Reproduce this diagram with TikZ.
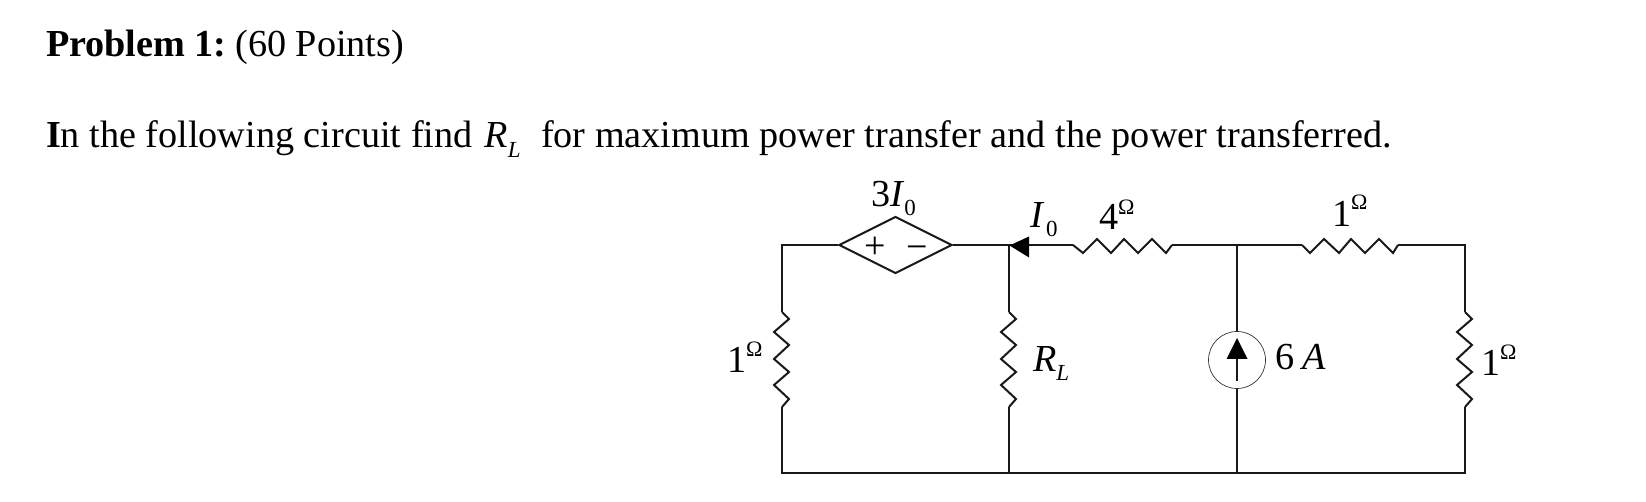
\documentclass[tikz,border=0pt]{standalone}
\usepackage{fontspec}
\setmainfont{Liberation Serif}
\usetikzlibrary{shapes.geometric,arrows.meta}
\newcommand{\subdown}[2]{\raisebox{-#1pt}{\fontsize{23}{23}\selectfont #2}}
\newcommand{\ohm}[1]{\raisebox{#1pt}{\fontsize{22}{22}\selectfont Ω}}
\tikzset{
  wire/.style={line width=2pt,line join=miter,draw=black!90},
  lbl/.style={anchor=base west,inner sep=0pt,outer sep=0pt,font=\fontsize{38.2}{38}\selectfont},
  head/.style={fill=black,draw=none},
}
\begin{document}
\begin{tikzpicture}[x=1pt,y=-1pt]
\useasboundingbox (0,0) rectangle (1646,502);
% text
\node[lbl] (title) at (46,57) {\textbf{Problem 1:}\hspace{-4pt} (60 Points)};
\node[lbl] (body) at (46,148) {\textbf{I}n the following circuit find\hspace{12pt}\textit{R}\subdown{10}{\textit{L}}\hspace{11pt} for maximum power transfer and the power transferred.};
% junctions
\coordinate (tl) at (782,245);
\coordinate (bl) at (782,473);
\coordinate (tm) at (1009,245);
\coordinate (bm) at (1009,473);
\coordinate (ts) at (1237,245);
\coordinate (bs) at (1237,473);
\coordinate (tr) at (1465,245);
\coordinate (br) at (1465,473);
% resistor end points
\coordinate (r1a) at (782,312); \coordinate (r1b) at (782,407);
\coordinate (r2a) at (1009,312); \coordinate (r2b) at (1009,407);
\coordinate (r3a) at (1465,312); \coordinate (r3b) at (1465,407);
\coordinate (r4a) at (1073,245); \coordinate (r4b) at (1172,245);
\coordinate (r5a) at (1302,245); \coordinate (r5b) at (1398,245);
% sources
\node[diamond,aspect=2,draw=black!90,line width=2pt,inner sep=0pt,minimum width=113pt,minimum height=57pt] (vs) at (895.5,245) {};
\node[circle,draw=black!80,line width=0.7pt,inner sep=0pt,minimum size=57pt] (is) at (1237,360) {};
\node[anchor=center,inner sep=0pt,font=\fontsize{38}{38}\selectfont] (plus) at (875,248) {+};
\node[anchor=center,inner sep=0pt,font=\fontsize{38}{38}\selectfont] (minus) at (917,253) {−};
% wires
\draw[wire] (r1a) -- (tl) -- (vs.west);
\draw[wire] (vs.east) -- (tm) -- (r4a);
\draw[wire] (tm) -- (r2a);
\draw[wire] (r4b) -- (ts) -- (r5a);
\draw[wire] (r5b) -- (tr) -- (r3a);
\draw[wire] (ts) -- (is.north);
\draw[wire] (is.south) -- (bs);
\draw[wire] (r1b) -- (bl) -- (bm) -- (bs) -- (br) -- (r3b);
\draw[wire] (r2b) -- (bm);
% horizontal resistors
\draw[wire] (r4a) -- ++(10,8) -- ++(14,-14) -- ++(14,14) -- ++(13,-14) -- ++(14,14) -- ++(14,-14) -- ++(14,14) -- (r4b);
\draw[wire] (r5a) -- ++(8,8) -- ++(14,-14) -- ++(15,14) -- ++(12,-14) -- ++(14,14) -- ++(14,-14) -- ++(14,14) -- (r5b);
% vertical resistors
\draw[wire] (r1a) -- ++(7,7) -- ++(-15,13) -- ++(15,13) -- ++(-15,14) -- ++(15,13) -- ++(-15,13) -- ++(15,14) -- (r1b);
\draw[wire] (r2a) -- ++(7,7) -- ++(-15,13) -- ++(15,13) -- ++(-15,14) -- ++(15,13) -- ++(-15,13) -- ++(15,14) -- (r2b);
\draw[wire] (r3a) -- ++(7,7) -- ++(-15,13) -- ++(15,13) -- ++(-15,14) -- ++(15,13) -- ++(-15,13) -- ++(15,14) -- (r3b);
% arrows
\coordinate (a1tip) at (1009.5,245.5);
\fill[head] (a1tip) -- (1029,236.5) -- (1029,257.5) -- cycle;
\coordinate (a2tip) at (1237,338);
\coordinate (a2tail) at (1237,381);
\draw[wire] (a2tail) -- (1237,355);
\fill[head] (a2tip) -- (1247.5,359) -- (1226.5,359) -- cycle;
% labels
\node[lbl] (lvs) at (871,207) {3\textit{I}\subdown{9}{0}};
\node[lbl] (li0) at (1030,228) {\textit{I}\hspace{2pt}\subdown{9}{0}};
\node[lbl] (l4) at (1099,230) {4\ohm{15}};
\node[lbl] (l1t) at (1332,227) {1\ohm{17}};
\node[lbl] (l1l) at (727,373) {1\ohm{17}};
\node[lbl] (l1r) at (1481,376) {1\ohm{17}};
\node[lbl] (lrl) at (1033,372) {\textit{R}\subdown{9}{\textit{L}}};
\node[lbl] (l6) at (1275,370) {6\hspace{-1pt} \textit{A}};
\end{tikzpicture}
\end{document}
